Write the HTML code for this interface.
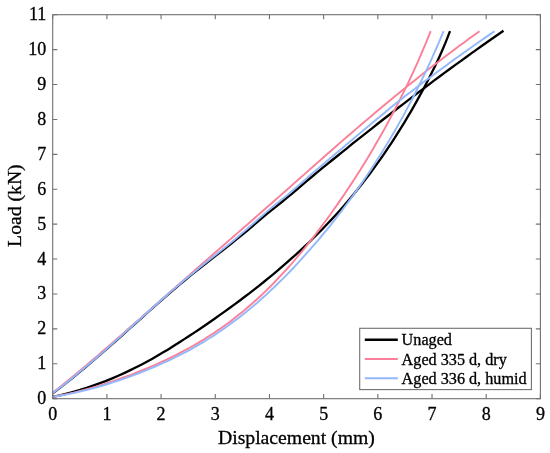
<!DOCTYPE html>
<html><head><meta charset="utf-8"><title>Load vs Displacement</title>
<style>
html,body{margin:0;padding:0;background:#fff;}
svg{display:block;font-family:"Liberation Serif",serif;}
text{fill:#000;stroke:#000;stroke-width:0.3px;}
</style></head><body>
<svg width="550" height="453" viewBox="0 0 550 453">
<rect width="550" height="453" fill="#fff"/>
<g>
<path d="M52.7,396.8 L59.8,395.3 L66.7,393.6 L73.4,391.8 L80.1,389.9 L86.6,387.9 L93.0,385.7 L99.3,383.4 L105.5,381.1 L111.6,378.6 L117.7,376.0 L123.6,373.4 L129.4,370.6 L135.1,367.8 L140.8,364.9 L146.4,361.9 L151.9,358.9 L157.4,355.8 L162.8,352.6 L168.2,349.4 L173.5,346.1 L178.7,342.8 L183.9,339.4 L189.1,336.0 L194.3,332.6 L199.4,329.2 L204.5,325.7 L209.6,322.2 L214.6,318.7 L219.6,315.1 L224.6,311.6 L229.6,308.0 L234.6,304.3 L239.5,300.7 L244.4,297.0 L249.3,293.3 L254.1,289.6 L258.9,285.8 L263.7,282.0 L268.4,278.1 L273.1,274.3 L277.8,270.4 L282.4,266.4 L287.0,262.4 L291.5,258.4 L296.1,254.4 L300.5,250.3 L305.0,246.1 L309.4,242.0 L313.7,237.7 L318.0,233.5 L322.3,229.2 L326.5,224.8 L330.7,220.4 L334.8,216.0 L338.9,211.5 L342.9,206.9 L346.9,202.3 L350.8,197.7 L354.7,193.0 L358.5,188.3 L362.3,183.5 L366.1,178.6 L369.8,173.8 L373.4,168.8 L377.0,163.9 L380.6,158.9 L384.1,153.8 L387.6,148.7 L391.0,143.6 L394.4,138.4 L397.7,133.1 L401.0,127.9 L404.3,122.6 L407.5,117.2 L410.7,111.8 L413.8,106.4 L416.9,100.9 L419.9,95.4 L423.0,89.8 L425.9,84.2 L428.9,78.5 L431.7,72.8 L434.6,67.1 L437.3,61.3 L440.0,55.4 L442.6,49.5 L445.2,43.4 L447.6,37.3 L450.0,31.1" fill="none" stroke="#000" stroke-width="2.3" stroke-linejoin="round"/>
<path d="M52.7,393.3 L57.9,389.4 L63.1,385.4 L68.2,381.4 L73.3,377.3 L78.3,373.2 L83.3,369.1 L88.3,364.9 L93.2,360.7 L98.1,356.5 L103.0,352.2 L107.9,348.0 L112.7,343.7 L117.6,339.4 L122.4,335.1 L127.2,330.7 L132.0,326.4 L136.9,322.1 L141.7,317.8 L146.5,313.5 L151.3,309.2 L156.2,304.9 L161.0,300.6 L165.9,296.3 L170.8,292.1 L175.7,287.9 L180.7,283.7 L185.7,279.5 L190.7,275.4 L195.8,271.4 L200.9,267.3 L206.0,263.3 L211.1,259.3 L216.2,255.3 L221.4,251.3 L226.5,247.3 L231.6,243.3 L236.7,239.2 L241.8,235.1 L246.7,231.0 L251.7,226.8 L256.6,222.6 L261.6,218.4 L266.6,214.2 L271.6,210.1 L276.7,206.1 L281.8,202.0 L286.8,197.9 L291.8,193.8 L296.8,189.6 L301.7,185.4 L306.6,181.2 L311.6,177.0 L316.5,172.8 L321.6,168.7 L326.6,164.6 L331.7,160.5 L336.7,156.5 L341.8,152.4 L346.9,148.3 L351.9,144.2 L357.0,140.2 L362.1,136.1 L367.2,132.1 L372.3,128.1 L377.4,124.0 L382.5,120.0 L387.7,116.0 L392.8,112.0 L398.0,108.0 L403.1,104.1 L408.3,100.1 L413.5,96.1 L418.7,92.2 L423.9,88.3 L429.1,84.3 L434.3,80.4 L439.6,76.5 L444.8,72.6 L450.1,68.8 L455.4,64.9 L460.7,61.1 L466.0,57.2 L471.3,53.4 L476.6,49.6 L482.0,45.8 L487.3,42.0 L492.7,38.3 L498.1,34.5 L503.5,30.8" fill="none" stroke="#000" stroke-width="2.3" stroke-linejoin="round"/>
<path d="M52.7,396.8 L59.8,395.5 L66.7,394.1 L73.5,392.6 L80.3,390.9 L86.9,389.2 L93.4,387.4 L99.9,385.5 L106.2,383.5 L112.5,381.4 L118.7,379.2 L124.8,377.0 L130.9,374.8 L136.9,372.4 L142.9,370.0 L148.8,367.6 L154.6,365.0 L160.4,362.4 L166.1,359.8 L171.7,357.1 L177.3,354.3 L182.8,351.4 L188.2,348.5 L193.6,345.5 L198.9,342.4 L204.1,339.3 L209.2,336.0 L214.3,332.7 L219.2,329.4 L224.1,325.9 L229.0,322.4 L233.7,318.8 L238.4,315.1 L243.0,311.4 L247.5,307.5 L252.0,303.7 L256.4,299.7 L260.8,295.7 L265.1,291.6 L269.3,287.5 L273.4,283.3 L277.5,279.0 L281.6,274.7 L285.6,270.4 L289.6,266.0 L293.5,261.5 L297.3,257.0 L301.1,252.5 L304.9,247.9 L308.6,243.2 L312.3,238.6 L315.9,233.9 L319.5,229.1 L323.1,224.3 L326.6,219.5 L330.2,214.7 L333.6,209.8 L337.1,204.9 L340.5,199.9 L343.9,195.0 L347.2,190.0 L350.6,184.9 L353.9,179.9 L357.1,174.8 L360.4,169.7 L363.6,164.5 L366.8,159.4 L369.9,154.2 L373.0,148.9 L376.1,143.6 L379.2,138.3 L382.2,133.0 L385.2,127.6 L388.1,122.2 L391.0,116.8 L393.9,111.3 L396.8,105.8 L399.6,100.3 L402.4,94.7 L405.1,89.1 L407.9,83.5 L410.5,77.8 L413.2,72.1 L415.8,66.3 L418.4,60.6 L420.9,54.7 L423.4,48.9 L425.9,43.0 L428.3,37.1 L430.7,31.1" fill="none" stroke="#fb7f98" stroke-width="1.9" stroke-linejoin="round"/>
<path d="M52.7,392.8 L57.6,388.9 L62.5,384.9 L67.4,380.9 L72.3,376.9 L77.1,372.9 L81.9,368.9 L86.8,364.9 L91.6,360.8 L96.4,356.7 L101.1,352.6 L105.9,348.6 L110.7,344.5 L115.4,340.3 L120.1,336.2 L124.9,332.1 L129.6,327.9 L134.3,323.8 L139.0,319.7 L143.7,315.5 L148.4,311.3 L153.1,307.2 L157.8,303.0 L162.5,298.9 L167.2,294.7 L171.9,290.5 L176.6,286.4 L181.3,282.2 L186.0,278.1 L190.7,273.9 L195.4,269.8 L200.1,265.6 L204.9,261.5 L209.6,257.4 L214.3,253.2 L219.0,249.1 L223.8,245.0 L228.5,240.9 L233.3,236.7 L238.0,232.6 L242.7,228.5 L247.5,224.4 L252.2,220.2 L256.9,216.1 L261.6,212.0 L266.3,207.8 L271.1,203.7 L275.8,199.5 L280.5,195.4 L285.2,191.2 L289.9,187.1 L294.6,182.9 L299.3,178.7 L304.0,174.6 L308.7,170.4 L313.4,166.3 L318.1,162.1 L322.8,158.0 L327.5,153.8 L332.2,149.7 L337.0,145.5 L341.7,141.4 L346.4,137.3 L351.2,133.2 L355.9,129.1 L360.7,125.0 L365.5,120.9 L370.3,116.9 L375.1,112.8 L379.9,108.8 L384.7,104.8 L389.6,100.7 L394.4,96.7 L399.3,92.7 L404.2,88.8 L409.1,84.8 L414.0,80.9 L418.9,76.9 L423.9,73.0 L428.8,69.1 L433.8,65.2 L438.8,61.4 L443.8,57.5 L448.9,53.7 L453.9,49.9 L459.0,46.1 L464.1,42.4 L469.2,38.6 L474.3,34.9 L479.5,31.2" fill="none" stroke="#fb7f98" stroke-width="1.9" stroke-linejoin="round"/>
<path d="M52.7,396.9 L60.0,395.7 L67.2,394.4 L74.2,392.9 L81.1,391.3 L88.0,389.6 L94.7,387.8 L101.3,386.0 L107.8,384.0 L114.2,381.9 L120.6,379.8 L126.9,377.6 L133.1,375.3 L139.3,373.0 L145.4,370.6 L151.4,368.1 L157.4,365.6 L163.3,362.9 L169.1,360.3 L174.8,357.5 L180.5,354.7 L186.1,351.8 L191.6,348.8 L197.1,345.7 L202.4,342.6 L207.7,339.3 L212.9,336.1 L218.0,332.7 L223.1,329.2 L228.1,325.7 L233.0,322.1 L237.8,318.5 L242.6,314.7 L247.3,310.9 L252.0,307.1 L256.6,303.2 L261.1,299.2 L265.6,295.2 L270.0,291.1 L274.4,287.0 L278.7,282.8 L283.0,278.6 L287.2,274.3 L291.4,270.0 L295.5,265.6 L299.6,261.2 L303.6,256.7 L307.6,252.2 L311.6,247.7 L315.6,243.2 L319.5,238.6 L323.3,233.9 L327.2,229.3 L331.0,224.6 L334.7,219.8 L338.5,215.0 L342.1,210.2 L345.8,205.4 L349.4,200.5 L353.0,195.6 L356.5,190.6 L360.0,185.6 L363.5,180.6 L367.0,175.5 L370.4,170.4 L373.7,165.3 L377.0,160.1 L380.3,154.9 L383.6,149.6 L386.8,144.4 L390.0,139.0 L393.1,133.7 L396.3,128.3 L399.3,122.9 L402.4,117.4 L405.4,111.9 L408.3,106.4 L411.3,100.8 L414.2,95.2 L417.0,89.5 L419.8,83.9 L422.6,78.1 L425.4,72.4 L428.1,66.6 L430.8,60.8 L433.4,54.9 L436.0,49.0 L438.6,43.1 L441.1,37.1 L443.6,31.1" fill="none" stroke="#92b8fc" stroke-width="1.9" stroke-linejoin="round"/>
<path d="M52.7,393.2 L57.8,389.3 L63.0,385.4 L68.0,381.4 L73.0,377.4 L78.0,373.3 L82.9,369.3 L87.9,365.1 L92.7,361.0 L97.6,356.8 L102.4,352.6 L107.2,348.4 L112.0,344.1 L116.8,339.9 L121.6,335.6 L126.3,331.4 L131.1,327.1 L135.8,322.8 L140.6,318.5 L145.4,314.3 L150.1,310.0 L154.9,305.7 L159.7,301.5 L164.5,297.3 L169.3,293.0 L174.1,288.9 L179.0,284.7 L183.9,280.6 L188.8,276.5 L193.8,272.4 L198.8,268.3 L203.8,264.3 L208.8,260.3 L213.9,256.3 L218.9,252.3 L223.9,248.3 L228.9,244.3 L233.9,240.2 L238.8,236.1 L243.7,231.9 L248.5,227.7 L253.3,223.5 L258.1,219.3 L262.9,215.1 L267.8,210.9 L272.7,206.8 L277.7,202.8 L282.7,198.7 L287.7,194.7 L292.6,190.5 L297.4,186.4 L302.3,182.2 L307.1,178.0 L311.9,173.8 L316.8,169.6 L321.7,165.5 L326.6,161.3 L331.5,157.2 L336.4,153.1 L341.3,149.0 L346.2,144.8 L351.1,140.7 L356.0,136.6 L360.9,132.4 L365.8,128.3 L370.7,124.2 L375.7,120.1 L380.6,116.0 L385.5,111.9 L390.4,107.8 L395.4,103.7 L400.5,99.7 L405.5,95.8 L410.7,91.9 L415.8,88.0 L421.0,84.1 L426.1,80.2 L431.3,76.4 L436.5,72.5 L441.7,68.7 L446.9,64.9 L452.1,61.1 L457.4,57.3 L462.7,53.5 L467.9,49.8 L473.2,46.0 L478.5,42.3 L483.8,38.6 L489.2,34.9 L494.5,31.2" fill="none" stroke="#92b8fc" stroke-width="1.9" stroke-linejoin="round"/>
</g>
<rect x="52.7" y="14.7" width="487.70" height="384.00" fill="none" stroke="#707070" stroke-width="1.1"/>
<path d="M52.70,398.7 v-4.6 M52.70,14.7 v4.6 M106.89,398.7 v-4.6 M106.89,14.7 v4.6 M161.08,398.7 v-4.6 M161.08,14.7 v4.6 M215.27,398.7 v-4.6 M215.27,14.7 v4.6 M269.46,398.7 v-4.6 M269.46,14.7 v4.6 M323.64,398.7 v-4.6 M323.64,14.7 v4.6 M377.83,398.7 v-4.6 M377.83,14.7 v4.6 M432.02,398.7 v-4.6 M432.02,14.7 v4.6 M486.21,398.7 v-4.6 M486.21,14.7 v4.6 M540.40,398.7 v-4.6 M540.40,14.7 v4.6 M52.7,398.70 h4.6 M540.4,398.70 h-4.6 M52.7,363.79 h4.6 M540.4,363.79 h-4.6 M52.7,328.88 h4.6 M540.4,328.88 h-4.6 M52.7,293.97 h4.6 M540.4,293.97 h-4.6 M52.7,259.06 h4.6 M540.4,259.06 h-4.6 M52.7,224.15 h4.6 M540.4,224.15 h-4.6 M52.7,189.25 h4.6 M540.4,189.25 h-4.6 M52.7,154.34 h4.6 M540.4,154.34 h-4.6 M52.7,119.43 h4.6 M540.4,119.43 h-4.6 M52.7,84.52 h4.6 M540.4,84.52 h-4.6 M52.7,49.61 h4.6 M540.4,49.61 h-4.6 M52.7,14.70 h4.6 M540.4,14.70 h-4.6 " stroke="#707070" stroke-width="1.1" fill="none"/>
<g font-size="18">
<text x="52.70" y="420.2" text-anchor="middle">0</text>
<text x="106.89" y="420.2" text-anchor="middle">1</text>
<text x="161.08" y="420.2" text-anchor="middle">2</text>
<text x="215.27" y="420.2" text-anchor="middle">3</text>
<text x="269.46" y="420.2" text-anchor="middle">4</text>
<text x="323.64" y="420.2" text-anchor="middle">5</text>
<text x="377.83" y="420.2" text-anchor="middle">6</text>
<text x="432.02" y="420.2" text-anchor="middle">7</text>
<text x="486.21" y="420.2" text-anchor="middle">8</text>
<text x="540.40" y="420.2" text-anchor="middle">9</text>
<text x="46.3" y="404.20" text-anchor="end">0</text>
<text x="46.3" y="369.29" text-anchor="end">1</text>
<text x="46.3" y="334.38" text-anchor="end">2</text>
<text x="46.3" y="299.47" text-anchor="end">3</text>
<text x="46.3" y="264.56" text-anchor="end">4</text>
<text x="46.3" y="229.65" text-anchor="end">5</text>
<text x="46.3" y="194.75" text-anchor="end">6</text>
<text x="46.3" y="159.84" text-anchor="end">7</text>
<text x="46.3" y="124.93" text-anchor="end">8</text>
<text x="46.3" y="90.02" text-anchor="end">9</text>
<text x="46.3" y="55.11" text-anchor="end">10</text>
<text x="46.3" y="20.20" text-anchor="end">11</text>
</g>
<text x="296.4" y="443.6" text-anchor="middle" font-size="19.7">Displacement (mm)</text>
<text transform="translate(21.2,205.6) rotate(-90)" text-anchor="middle" font-size="19.7">Load (kN)</text>
<rect x="359.7" y="328.3" width="171.7" height="61.3" fill="#fff" stroke="#707070" stroke-width="1.1"/>
<path d="M364.8,339.7 H397.8" stroke="#000" stroke-width="2.4"/>
<path d="M364.8,359 H397.8" stroke="#fb7f98" stroke-width="2"/>
<path d="M364.8,378.2 H397.8" stroke="#92b8fc" stroke-width="2"/>
<g font-size="16.2">
<text x="401.6" y="345.3">Unaged</text>
<text x="401.6" y="364.6">Aged 335 d, dry</text>
<text x="401.6" y="383.9">Aged 336 d, humid</text>
</g>
</svg>
</body></html>
